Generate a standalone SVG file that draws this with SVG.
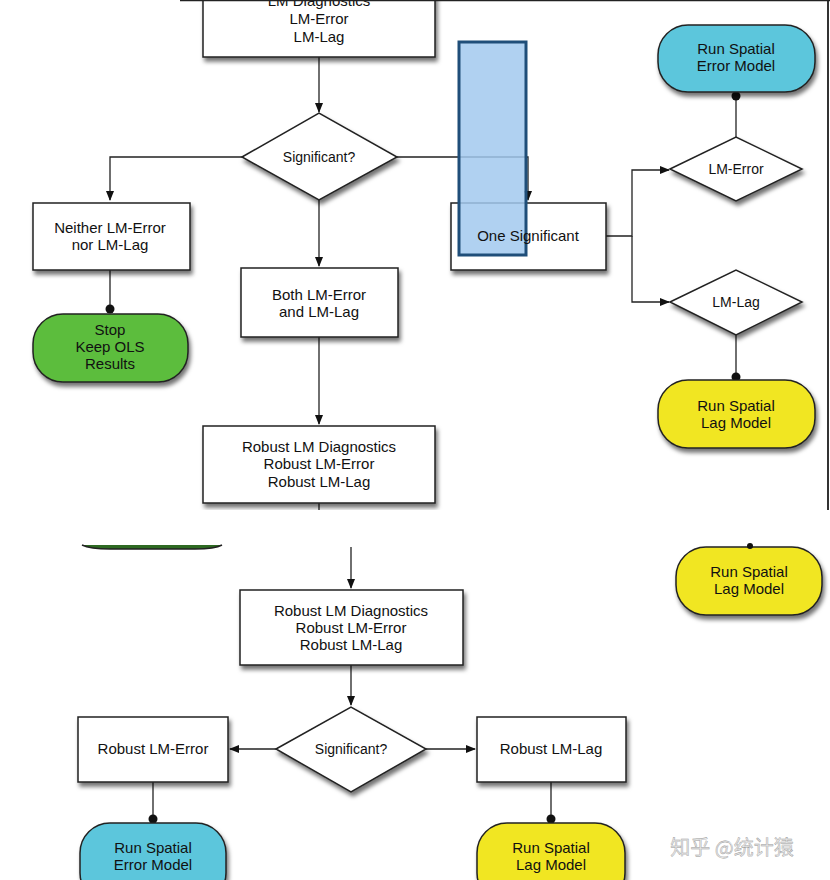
<svg xmlns="http://www.w3.org/2000/svg" width="830" height="880" viewBox="0 0 830 880">
<defs>
<filter id="sh" x="-10%" y="-10%" width="130%" height="140%"><feDropShadow dx="2" dy="4" stdDeviation="2" flood-color="#000" flood-opacity="0.55"/></filter>
<marker id="ar" markerWidth="10" markerHeight="10" refX="9" refY="5" orient="auto" markerUnits="userSpaceOnUse"><path d="M0,1 L10,5 L0,9 Z" fill="#111"/></marker>
<marker id="dot" markerWidth="10" markerHeight="10" refX="5" refY="5" markerUnits="userSpaceOnUse"><circle cx="5" cy="5" r="4.5" fill="#111"/></marker>
<style>
.b{fill:#fff;stroke:#222;stroke-width:1.5;filter:url(#sh)}
.cy{fill:#5cc6dc;stroke:#222;stroke-width:1.5;filter:url(#sh)}
.gr{fill:#5bbd3c;stroke:#222;stroke-width:1.5;filter:url(#sh)}
.ye{fill:#f1e624;stroke:#222;stroke-width:1.5;filter:url(#sh)}
.c line,.c path{stroke:#222;stroke-width:1.3;fill:none}
text{font-family:"Liberation Sans",Arial,sans-serif;font-size:15px;fill:#111;text-anchor:middle}
.m{font-size:14px}
</style>
</defs>
<rect width="830" height="880" fill="#fff"/>
<g class="c">
<line x1="319" y1="57" x2="319" y2="112" marker-end="url(#ar)"/>
<path d="M242,157 H110 V200" marker-end="url(#ar)"/>
<path d="M397,157 H528 V200" marker-end="url(#ar)"/>
<line x1="110" y1="270" x2="110" y2="309" marker-end="url(#dot)"/>
<line x1="319" y1="200" x2="319" y2="266" marker-end="url(#ar)"/>
<line x1="319" y1="337" x2="319" y2="424" marker-end="url(#ar)"/>
<line x1="319" y1="503" x2="319" y2="510"/>
<path d="M606,236 H632 V170 H669" marker-end="url(#ar)"/>
<path d="M632,236 V302 H669" marker-end="url(#ar)"/>
<line x1="736" y1="137" x2="736" y2="96" marker-end="url(#dot)"/>
<line x1="736" y1="335" x2="736" y2="377" marker-end="url(#dot)"/>
<line x1="351" y1="547" x2="351" y2="588" marker-end="url(#ar)"/>
<line x1="351" y1="665" x2="351" y2="705" marker-end="url(#ar)"/>
<line x1="276" y1="749" x2="230" y2="749" marker-end="url(#ar)"/>
<line x1="426" y1="749" x2="475" y2="749" marker-end="url(#ar)"/>
<line x1="153" y1="782" x2="153" y2="819" marker-end="url(#dot)"/>
<line x1="551" y1="782" x2="551" y2="819" marker-end="url(#dot)"/>
</g>
<g id="lmdiag"><rect class="b" x="203" y="-10" width="232" height="67"/><text x="319" y="6">LM Diagnostics</text><text x="319" y="24">LM-Error</text><text x="319" y="42">LM-Lag</text></g>
<g id="sig1"><polygon class="b" points="242,157 319,113 397,157 319,200"/><text class="m" x="319" y="162">Significant?</text></g>
<g id="neither"><rect class="b" x="33" y="203" width="157" height="67"/><text x="110" y="233">Neither LM-Error</text><text x="110" y="250">nor LM-Lag</text></g>
<g id="stop"><rect class="gr" x="33" y="314" width="155" height="68" rx="30"/><text x="110" y="335">Stop</text><text x="110" y="352">Keep OLS</text><text x="110" y="369">Results</text></g>
<g id="both"><rect class="b" x="241" y="268" width="157" height="69"/><text x="319" y="300">Both LM-Error</text><text x="319" y="317">and LM-Lag</text></g>
<g id="robust1"><rect class="b" x="203" y="426" width="232" height="77"/><text x="319" y="452">Robust LM Diagnostics</text><text x="319" y="469">Robust LM-Error</text><text x="319" y="487">Robust LM-Lag</text></g>
<g id="one"><rect class="b" x="451" y="203" width="155" height="67"/></g>
<g id="hl"><rect x="459" y="42" width="67" height="213" fill="#a2c9ef" fill-opacity="0.85" stroke="#1f4e79" stroke-width="3"/></g>
<text x="528" y="241">One Significant</text>
<g id="lmerr"><polygon class="b" points="670,169 736,137 802,169 736,201"/><text class="m" x="736" y="174">LM-Error</text></g>
<g id="lmlag"><polygon class="b" points="670,302 736,270 802,302 736,335"/><text class="m" x="736" y="307">LM-Lag</text></g>
<g id="sem1"><rect class="cy" x="658" y="25" width="157" height="67" rx="30"/><text x="736" y="54">Run Spatial</text><text x="736" y="71">Error Model</text></g>
<g id="slm1"><rect class="ye" x="658" y="380" width="157" height="68" rx="30"/><text x="736" y="411">Run Spatial</text><text x="736" y="428">Lag Model</text></g>
<rect x="0" y="510" width="830" height="35" fill="#fff"/>
<line x1="828" y1="0" x2="828" y2="510" stroke="#333" stroke-width="2"/>
<line x1="180" y1="0.5" x2="830" y2="0.5" stroke="#222" stroke-width="1.5"/>
<g id="greenfrag"><path d="M82,545 Q90,549 110,549 H195 Q215,549 222,545" fill="#2e6a22" stroke="#222" stroke-width="1.5"/></g>
<g id="slm2"><rect class="ye" x="676" y="547" width="146" height="68" rx="30"/><circle cx="750" cy="546" r="3" fill="#111"/><text x="749" y="577">Run Spatial</text><text x="749" y="594">Lag Model</text></g>
<g id="robust2"><rect class="b" x="240" y="590" width="223" height="75"/><text x="351" y="616">Robust LM Diagnostics</text><text x="351" y="633">Robust LM-Error</text><text x="351" y="650">Robust LM-Lag</text></g>
<g id="sig2"><polygon class="b" points="276,749 351,707 426,749 351,792"/><text class="m" x="351" y="754">Significant?</text></g>
<g id="rerr"><rect class="b" x="78" y="717" width="150" height="65"/><text x="153" y="754">Robust LM-Error</text></g>
<g id="rlag"><rect class="b" x="477" y="717" width="149" height="65"/><text x="551" y="754">Robust LM-Lag</text></g>
<g id="sem2"><rect class="cy" x="80" y="823" width="146" height="80" rx="30"/><text x="153" y="853">Run Spatial</text><text x="153" y="870">Error Model</text></g>
<g id="slm3"><rect class="ye" x="477" y="823" width="148" height="80" rx="30"/><text x="551" y="853">Run Spatial</text><text x="551" y="870">Lag Model</text></g>
<text x="732" y="855" style="font-family:'Noto Sans CJK SC',sans-serif;font-size:20px;fill:#e8e8e8;stroke:#999;stroke-width:0.4">知乎 @统计猿</text>
</svg>
